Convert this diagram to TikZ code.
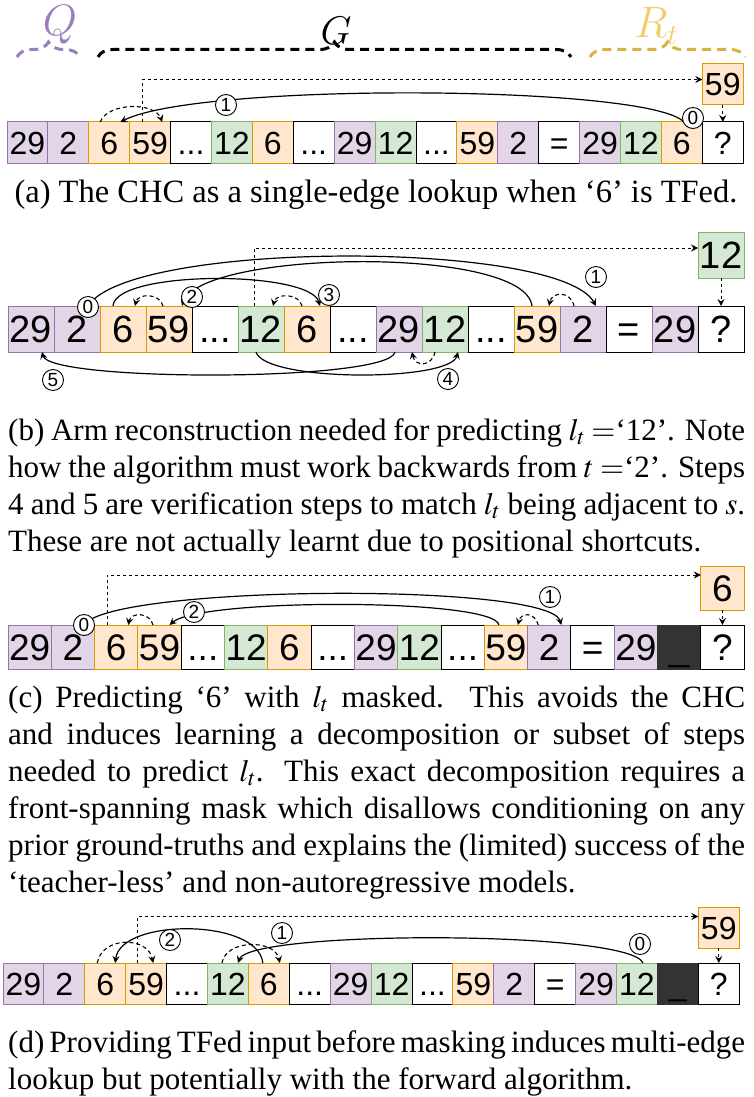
\RequirePackage{fix-cm}
\documentclass[tikz,border=0pt]{standalone}
\usepackage{tikz}
\usepackage{xcolor}
\usepackage{mathptmx}
\usepackage{fontspec}
\setmainfont{Liberation Serif}
\setsansfont{Liberation Sans}
\usetikzlibrary{positioning,arrows.meta,decorations.pathreplacing}

\definecolor{purfill}{HTML}{E1D5E7}
\definecolor{purline}{HTML}{9673A6}
\definecolor{orafill}{HTML}{FFE6CC}
\definecolor{oraline}{HTML}{D79B00}
\definecolor{grefill}{HTML}{D5E8D4}
\definecolor{greline}{HTML}{82B366}
\definecolor{mskfill}{HTML}{333333}
\definecolor{qcol}{HTML}{9B7DBB}
\definecolor{rcol}{HTML}{D9B13E}
\definecolor{rtext}{HTML}{F2CC6C}

\newcommand{\cmi}[1]{{\usefont{OML}{cmm}{m}{it}#1}}

\begin{document}
\begin{tikzpicture}[x=1pt, y=-1pt,
  cella/.style={minimum width=40.9pt, minimum height=41pt, inner sep=0pt, outer sep=0pt, line width=1pt, text height=23pt, text depth=0pt, font=\sffamily\fontsize{32}{32}\selectfont},
  cellb/.style={minimum width=46pt, minimum height=46pt, inner sep=0pt, outer sep=0pt, line width=1pt, text height=27pt, text depth=0pt, font=\sffamily\fontsize{38}{38}\selectfont},
  cellc/.style={minimum width=43.3pt, minimum height=44pt, inner sep=0pt, outer sep=0pt, line width=1pt, text height=26.5pt, text depth=0pt, font=\sffamily\fontsize{37}{37}\selectfont},
  celld/.style={minimum width=40.9pt, minimum height=41pt, inner sep=0pt, outer sep=0pt, line width=1pt, text height=23pt, text depth=0pt, font=\sffamily\fontsize{32}{32}\selectfont},
  pur/.style={fill=purfill, draw=purline},
  ora/.style={fill=orafill, draw=oraline},
  gre/.style={fill=grefill, draw=greline},
  wht/.style={fill=white, draw=black},
  msk/.style={fill=mskfill, draw=mskfill},
  stepnum/.style={circle, draw, fill=white, line width=0.9pt, inner sep=0pt, minimum size=21pt, font=\sffamily\fontsize{19}{19}\selectfont},
  hop/.style={line width=1.2pt, -{Stealth[length=7pt,width=7pt,inset=2.5pt]}},
  nxt/.style={line width=1.1pt, dash pattern=on 4pt off 3pt, -{Stealth[length=7pt,width=7pt,inset=2.5pt]}},
  predline/.style={line width=0.9pt, dash pattern=on 3pt off 3pt, -{Stealth[length=7pt,width=7pt,inset=2.5pt]}},
  curly/.style={line width=3pt, dash pattern=on 9pt off 6pt, decorate, decoration={brace, amplitude=15pt}},
  capstyle/.style={inner sep=0pt, font=\fontsize{31}{37}\selectfont}]

 	\useasboundingbox (0,0) rectangle (753,1097);

 	% Q, G and R_t
 	\draw[qcol, curly] (17,57) -- (80,57);
 	\draw[black, curly] (98,57) -- (571,57);
 	\draw[rcol, curly] (590,57) -- (745,57);
 	\node[text=qcol, font=\fontsize{44}{44}\selectfont] (qlab) at (60,25) {\cmi{Q}};
 	\node[font=\fontsize{40}{40}\selectfont] (glab) at (336,31) {\cmi{G}};
 	\node[text=rtext, font=\fontsize{44}{44}\selectfont] (rlab) at (656,26) {\cmi{R}\raisebox{-7pt}{\fontsize{29}{29}\selectfont\cmi{t}}};

 	% (a)
 	\node[cella, pur, anchor=west] (a1) at (7,142.5) {29};
 	\node[cella, pur, right=0pt of a1] (a2) {2};
 	\node[cella, ora, right=0pt of a2] (a3) {6};
 	\node[cella, ora, right=0pt of a3] (a4) {59};
 	\node[cella, wht, right=0pt of a4] (a5) {...};
 	\node[cella, gre, right=0pt of a5] (a6) {12};
 	\node[cella, ora, right=0pt of a6] (a7) {6};
 	\node[cella, wht, right=0pt of a7] (a8) {...};
 	\node[cella, pur, right=0pt of a8] (a9) {29};
 	\node[cella, gre, right=0pt of a9] (a10) {12};
 	\node[cella, wht, right=0pt of a10] (a11) {...};
 	\node[cella, ora, right=0pt of a11] (a12) {59};
 	\node[cella, pur, right=0pt of a12] (a13) {2};
 	\node[cella, wht, right=0pt of a13] (a14) {=};
 	\node[cella, pur, right=0pt of a14] (a15) {29};
 	\node[cella, gre, right=0pt of a15] (a16) {12};
 	\node[cella, ora, right=0pt of a16] (a17) {6};
 	\node[cella, wht, right=0pt of a17] (a18) {?};
 	\node[cella, ora, above=17pt of a18] (aout) {59};

 	\draw[predline] ([xshift=-8pt]a4.north) |- ([yshift=5pt]aout.west);
 	\draw[predline] (aout.south) -- (a18.north);
 	\draw[hop] ([xshift=2pt]a17.north) .. controls (650,85) and (200,82) .. ([xshift=11pt]a3.north);
 	\draw[nxt] ([xshift=-9pt]a3.north) .. controls (108,102) and (155,102) .. ([xshift=12pt]a4.north);
 	\node[stepnum] (a0lab) at (693,118) {0};
 	\node[stepnum] (a1lab) at (226,105) {1};

 	\node[capstyle, font=\fontsize{32.5}{37}\selectfont, anchor=base] (capa) at (376,202) {(a) The CHC as a single-edge lookup when ‘6’ is TFed.};

 	% (b)
 	\node[cellb, pur, anchor=west] (b1) at (8,329) {29};
 	\node[cellb, pur, right=0pt of b1] (b2) {2};
 	\node[cellb, ora, right=0pt of b2] (b3) {6};
 	\node[cellb, ora, right=0pt of b3] (b4) {59};
 	\node[cellb, wht, right=0pt of b4] (b5) {...};
 	\node[cellb, gre, right=0pt of b5] (b6) {12};
 	\node[cellb, ora, right=0pt of b6] (b7) {6};
 	\node[cellb, wht, right=0pt of b7] (b8) {...};
 	\node[cellb, pur, right=0pt of b8] (b9) {29};
 	\node[cellb, gre, right=0pt of b9] (b10) {12};
 	\node[cellb, wht, right=0pt of b10] (b11) {...};
 	\node[cellb, ora, right=0pt of b11] (b12) {59};
 	\node[cellb, pur, right=0pt of b12] (b13) {2};
 	\node[cellb, wht, right=0pt of b13] (b14) {=};
 	\node[cellb, pur, right=0pt of b14] (b15) {29};
 	\node[cellb, wht, right=0pt of b15] (b16) {?};
 	\node[cellb, gre, above=28pt of b16] (bout) {12};

 	\draw[predline] ([xshift=-7pt]b6.north) |- ([yshift=7pt]bout.west);
 	\draw[predline] (bout.south) -- (b16.north);
 	\draw[hop] ([xshift=11pt]b2.north) .. controls (130,240) and (560,240) .. ([xshift=13pt]b13.north);
 	\draw[hop] ([xshift=-5pt]b12.north) .. controls (525,245) and (200,250) .. ([xshift=13pt]b4.north);
 	\draw[hop] ([xshift=-10pt]b3.north) .. controls (115,270) and (310,270) .. ([xshift=13pt]b7.north);
 	\draw[nxt] ([xshift=-6pt]b4.north) .. controls (160,293) and (138,293) .. ([xshift=12pt]b3.north);
 	\draw[nxt] ([xshift=-5pt]b7.north) .. controls (299,293) and (276,293) .. ([xshift=12pt]b6.north);
 	\draw[nxt] ([xshift=-9pt]b13.north) .. controls (571,291) and (552,291) .. ([xshift=12pt]b12.north);
 	\draw[hop] ([xshift=-5pt]b6.south) .. controls (265,382) and (450,382) .. ([xshift=13pt]b10.south);
 	\draw[nxt] ([xshift=-10pt]b10.south) .. controls (432,367) and (415,367) .. ([xshift=13pt]b9.south);
 	\draw[hop] ([xshift=-4pt]b9.south) .. controls (390,382) and (50,382) .. ([xshift=11pt]b1.south);
 	\node[stepnum] (b0lab) at (88,307) {0};
 	\node[stepnum] (b1lab) at (596,277) {1};
 	\node[stepnum] (b2lab) at (192,297) {2};
 	\node[stepnum] (b3lab) at (329,295) {3};
 	\node[stepnum] (b4lab) at (448,379) {4};
 	\node[stepnum] (b5lab) at (53,380) {5};

 	\node[capstyle, text width=737pt, align=justify, anchor=base west] (capb) at (8,440)
 	{(b) Arm reconstruction needed for predicting $l_t =$‘12’. Note\linebreak
 	how the algorithm must work backwards from $t =$‘2’. Steps\linebreak
 	4 and 5 are verification steps to match $l_t$ being adjacent to $s$.\linebreak
 	These are not actually learnt due to positional shortcuts.};

 	% (c)
 	\node[cellc, pur, anchor=west] (c1) at (8,647) {29};
 	\node[cellc, pur, right=0pt of c1] (c2) {2};
 	\node[cellc, ora, right=0pt of c2] (c3) {6};
 	\node[cellc, ora, right=0pt of c3] (c4) {59};
 	\node[cellc, wht, right=0pt of c4] (c5) {...};
 	\node[cellc, gre, right=0pt of c5] (c6) {12};
 	\node[cellc, ora, right=0pt of c6] (c7) {6};
 	\node[cellc, wht, right=0pt of c7] (c8) {...};
 	\node[cellc, pur, right=0pt of c8] (c9) {29};
 	\node[cellc, gre, right=0pt of c9] (c10) {12};
 	\node[cellc, wht, right=0pt of c10] (c11) {...};
 	\node[cellc, ora, right=0pt of c11] (c12) {59};
 	\node[cellc, pur, right=0pt of c12] (c13) {2};
 	\node[cellc, wht, right=0pt of c13] (c14) {=};
 	\node[cellc, pur, right=0pt of c14] (c15) {29};
 	\node[cellc, msk, right=0pt of c15] (c16) {\_};
 	\node[cellc, wht, right=0pt of c16] (c17) {?};
 	\node[cellc, ora, above=15pt of c17] (cout) {6};

 	\draw[predline] ([xshift=-9pt]c3.north) |- ([yshift=13pt]cout.west);
 	\draw[predline] (cout.south) -- (c17.north);
 	\draw[hop] ([xshift=11pt]c2.north) .. controls (110,585) and (550,582) .. ([xshift=12pt]c13.north);
 	\draw[hop] ([xshift=-7pt]c12.north) .. controls (495,598) and (200,598) .. ([xshift=10pt]c4.north);
 	\draw[nxt] ([xshift=-6.5pt]c4.north) .. controls (150,612) and (131,612) .. ([xshift=12pt]c3.north);
 	\draw[nxt] ([xshift=-11pt]c13.north) .. controls (535,612) and (521,612) .. ([xshift=12pt]c12.north);
 	\node[stepnum] (c0lab) at (84,625) {0};
 	\node[stepnum] (c1lab) at (550,597) {1};
 	\node[stepnum] (c2lab) at (194,612) {2};

 	\node[capstyle, text width=737pt, align=justify, anchor=base west] (capc) at (8,707)
 	{(c) Predicting ‘6’ with $l_t$ masked. This avoids the CHC\linebreak
 	and induces learning a decomposition or subset of steps\linebreak
 	needed to predict $l_t$. This exact decomposition requires a\linebreak
 	front-spanning mask which disallows conditioning on any\linebreak
 	prior ground-truths and explains the (limited) success of the\linebreak
 	‘teacher-less’ and non-autoregressive models.};

 	% (d)
 	\node[celld, pur, anchor=west] (d1) at (3,983.5) {29};
 	\node[celld, pur, right=0pt of d1] (d2) {2};
 	\node[celld, ora, right=0pt of d2] (d3) {6};
 	\node[celld, ora, right=0pt of d3] (d4) {59};
 	\node[celld, wht, right=0pt of d4] (d5) {...};
 	\node[celld, gre, right=0pt of d5] (d6) {12};
 	\node[celld, ora, right=0pt of d6] (d7) {6};
 	\node[celld, wht, right=0pt of d7] (d8) {...};
 	\node[celld, pur, right=0pt of d8] (d9) {29};
 	\node[celld, gre, right=0pt of d9] (d10) {12};
 	\node[celld, wht, right=0pt of d10] (d11) {...};
 	\node[celld, ora, right=0pt of d11] (d12) {59};
 	\node[celld, pur, right=0pt of d12] (d13) {2};
 	\node[celld, wht, right=0pt of d13] (d14) {=};
 	\node[celld, pur, right=0pt of d14] (d15) {29};
 	\node[celld, gre, right=0pt of d15] (d16) {12};
 	\node[celld, msk, right=0pt of d16] (d17) {\_};
 	\node[celld, wht, right=0pt of d17] (d18) {?};
 	\node[celld, ora, above=15pt of d18] (dout) {59};

 	\draw[predline] ([xshift=-9pt]d4.north) |- ([yshift=11pt]dout.west);
 	\draw[predline] (dout.south) -- (d18.north);
 	\draw[hop] ([xshift=6pt]d16.north) .. controls (630,930) and (250,930) .. ([xshift=10pt]d6.north);
 	\draw[hop] ([xshift=-6pt]d7.north) .. controls (258,918) and (120,918) .. ([xshift=10pt]d3.north);
 	\draw[nxt] ([xshift=-8pt]d3.north) .. controls (102,936) and (148,936) .. ([xshift=7pt]d4.north);
 	\draw[nxt] ([xshift=-6pt]d6.north) .. controls (226,939) and (275,939) .. ([xshift=11pt]d7.north);
 	\node[stepnum] (d0lab) at (640,944) {0};
 	\node[stepnum] (d1lab) at (282,933) {1};
 	\node[stepnum] (d2lab) at (170,940) {2};

 	\node[capstyle, text width=737pt, align=justify, anchor=base west] (capd) at (8,1052)
 	{(d) Providing TFed input before masking induces multi-edge\linebreak
 	lookup but potentially with the forward algorithm.};

 \end{tikzpicture}
\end{document}
